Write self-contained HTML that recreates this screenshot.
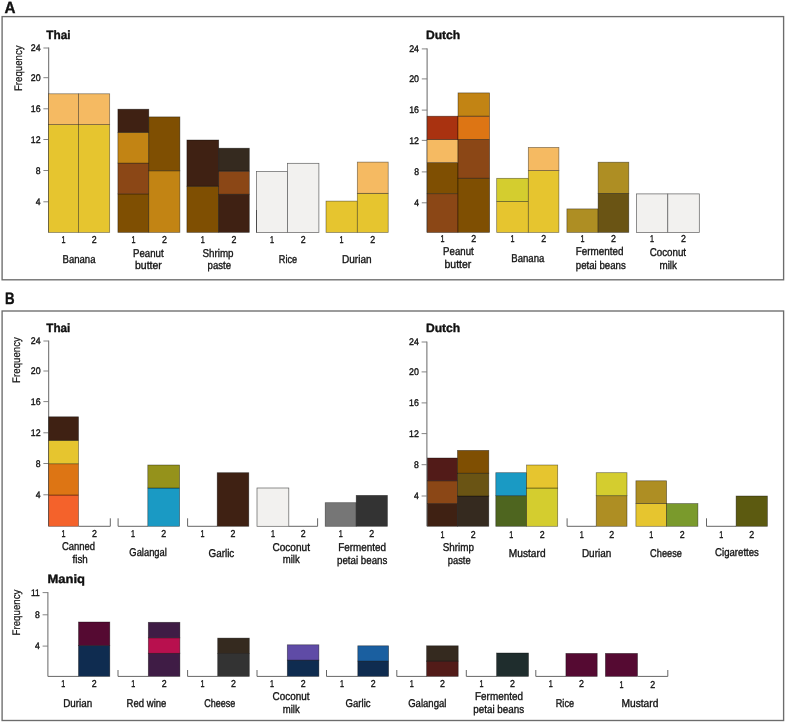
<!DOCTYPE html>
<html><head><meta charset="utf-8"><title>Figure</title>
<style>
html,body{margin:0;padding:0;background:#fff;}
svg{display:block;font-family:"Liberation Sans",sans-serif;fill:#111;text-rendering:geometricPrecision;}
text{stroke:#111;stroke-width:0.35px;}
</style></head><body>
<svg width="785" height="722" viewBox="0 0 785 722">
<rect x="0" y="0" width="785" height="722" fill="#fff" stroke="none"/>
<rect x="2.1" y="16.6" width="781.5" height="263.2" fill="#fff" stroke="#6c6c6c" stroke-width="1.35"/>
<rect x="2.1" y="311" width="781.5" height="409.5" fill="#fff" stroke="#6c6c6c" stroke-width="1.35"/>
<text x="4.5" y="12.7" font-size="16.2" text-anchor="start" font-weight="bold" textLength="11.0" lengthAdjust="spacingAndGlyphs">A</text>
<text x="4.9" y="303.8" font-size="16.6" text-anchor="start" font-weight="bold" textLength="9.6" lengthAdjust="spacingAndGlyphs">B</text>
<text x="46.3" y="39.0" font-size="12.0" text-anchor="start" font-weight="bold" textLength="24.3" lengthAdjust="spacingAndGlyphs">Thai</text>
<text transform="translate(21.5,68.2) rotate(-90)" font-size="11" style="stroke-width:0.2px" text-anchor="middle" textLength="45.8" lengthAdjust="spacingAndGlyphs">Frequency</text>
<line x1="48.7" y1="47.5" x2="48.7" y2="232.4" stroke="#666" stroke-width="1"/>
<line x1="43.4" y1="48.0" x2="48.7" y2="48.0" stroke="#777" stroke-width="0.9"/>
<text x="40.6" y="51.2" font-size="9.6" text-anchor="end" textLength="9.8" lengthAdjust="spacingAndGlyphs">24</text>
<line x1="43.4" y1="77.7" x2="48.7" y2="77.7" stroke="#777" stroke-width="0.9"/>
<text x="40.6" y="80.9" font-size="9.6" text-anchor="end" textLength="9.8" lengthAdjust="spacingAndGlyphs">20</text>
<line x1="43.4" y1="108.8" x2="48.7" y2="108.8" stroke="#777" stroke-width="0.9"/>
<text x="40.6" y="112.0" font-size="9.6" text-anchor="end" textLength="9.8" lengthAdjust="spacingAndGlyphs">16</text>
<line x1="43.4" y1="139.5" x2="48.7" y2="139.5" stroke="#777" stroke-width="0.9"/>
<text x="40.6" y="142.7" font-size="9.6" text-anchor="end" textLength="9.8" lengthAdjust="spacingAndGlyphs">12</text>
<line x1="43.4" y1="170.5" x2="48.7" y2="170.5" stroke="#777" stroke-width="0.9"/>
<text x="40.6" y="173.7" font-size="9.6" text-anchor="end" textLength="4.8" lengthAdjust="spacingAndGlyphs">8</text>
<line x1="43.4" y1="201.8" x2="48.7" y2="201.8" stroke="#777" stroke-width="0.9"/>
<text x="40.6" y="205.0" font-size="9.6" text-anchor="end" textLength="4.8" lengthAdjust="spacingAndGlyphs">4</text>
<rect x="48.6" y="124.6" width="29.8" height="107.8" fill="#E6C52F" stroke="rgba(0,0,0,0.5)" stroke-width="0.7"/>
<rect x="48.6" y="93.8" width="29.8" height="30.8" fill="#F5BA62" stroke="rgba(0,0,0,0.5)" stroke-width="0.7"/>
<rect x="78.4" y="124.6" width="31.3" height="107.8" fill="#E6C52F" stroke="rgba(0,0,0,0.5)" stroke-width="0.7"/>
<rect x="78.4" y="93.8" width="31.3" height="30.8" fill="#F5BA62" stroke="rgba(0,0,0,0.5)" stroke-width="0.7"/>
<text x="63.5" y="243.4" font-size="10" text-anchor="middle" textLength="4.0" lengthAdjust="spacingAndGlyphs">1</text>
<text x="94.1" y="243.4" font-size="10" text-anchor="middle" textLength="4.9" lengthAdjust="spacingAndGlyphs">2</text>
<rect x="117.9" y="193.9" width="30.9" height="38.5" fill="#7F4F02" stroke="rgba(0,0,0,0.5)" stroke-width="0.7"/>
<rect x="117.9" y="163.1" width="30.9" height="30.8" fill="#8B4716" stroke="rgba(0,0,0,0.5)" stroke-width="0.7"/>
<rect x="117.9" y="132.3" width="30.9" height="30.8" fill="#C28414" stroke="rgba(0,0,0,0.5)" stroke-width="0.7"/>
<rect x="117.9" y="109.2" width="30.9" height="23.1" fill="#3F2113" stroke="rgba(0,0,0,0.5)" stroke-width="0.7"/>
<rect x="148.8" y="170.8" width="31.1" height="61.6" fill="#C28414" stroke="rgba(0,0,0,0.5)" stroke-width="0.7"/>
<rect x="148.8" y="116.9" width="31.1" height="53.9" fill="#7F4F02" stroke="rgba(0,0,0,0.5)" stroke-width="0.7"/>
<text x="133.4" y="243.4" font-size="10" text-anchor="middle" textLength="4.0" lengthAdjust="spacingAndGlyphs">1</text>
<text x="164.4" y="243.4" font-size="10" text-anchor="middle" textLength="4.9" lengthAdjust="spacingAndGlyphs">2</text>
<rect x="186.9" y="186.2" width="31.8" height="46.2" fill="#7F4F02" stroke="rgba(0,0,0,0.5)" stroke-width="0.7"/>
<rect x="186.9" y="140.0" width="31.8" height="46.2" fill="#3F2113" stroke="rgba(0,0,0,0.5)" stroke-width="0.7"/>
<rect x="218.7" y="194.2" width="30.6" height="38.2" fill="#3F2113" stroke="rgba(0,0,0,0.5)" stroke-width="0.7"/>
<rect x="218.7" y="171.2" width="30.6" height="23.0" fill="#8B4716" stroke="rgba(0,0,0,0.5)" stroke-width="0.7"/>
<rect x="218.7" y="148.2" width="30.6" height="22.9" fill="#352A1F" stroke="rgba(0,0,0,0.5)" stroke-width="0.7"/>
<text x="202.8" y="243.4" font-size="10" text-anchor="middle" textLength="4.0" lengthAdjust="spacingAndGlyphs">1</text>
<text x="234.0" y="243.4" font-size="10" text-anchor="middle" textLength="4.9" lengthAdjust="spacingAndGlyphs">2</text>
<rect x="256.4" y="171.5" width="31.1" height="60.9" fill="#F2F1EF" stroke="#606060" stroke-width="0.7"/>
<rect x="287.5" y="163.3" width="31.4" height="69.1" fill="#F2F1EF" stroke="#606060" stroke-width="0.7"/>
<text x="271.9" y="243.4" font-size="10" text-anchor="middle" textLength="4.0" lengthAdjust="spacingAndGlyphs">1</text>
<text x="303.2" y="243.4" font-size="10" text-anchor="middle" textLength="4.9" lengthAdjust="spacingAndGlyphs">2</text>
<rect x="326.0" y="201.1" width="31.3" height="31.3" fill="#E6C52F" stroke="rgba(0,0,0,0.5)" stroke-width="0.7"/>
<rect x="357.3" y="193.4" width="30.9" height="39.0" fill="#E6C52F" stroke="rgba(0,0,0,0.5)" stroke-width="0.7"/>
<rect x="357.3" y="162.1" width="30.9" height="31.2" fill="#F5BA62" stroke="rgba(0,0,0,0.5)" stroke-width="0.7"/>
<text x="341.6" y="243.4" font-size="10" text-anchor="middle" textLength="4.0" lengthAdjust="spacingAndGlyphs">1</text>
<text x="372.8" y="243.4" font-size="10" text-anchor="middle" textLength="4.9" lengthAdjust="spacingAndGlyphs">2</text>
<line x1="256.5" y1="210.0" x2="256.5" y2="232.4" stroke="#444" stroke-width="0.9"/>
<text x="79.0" y="263.1" font-size="11.3" text-anchor="middle" textLength="33.0" lengthAdjust="spacingAndGlyphs">Banana</text>
<text x="148.3" y="256.9" font-size="11.3" text-anchor="middle" textLength="30.6" lengthAdjust="spacingAndGlyphs">Peanut</text>
<text x="148.4" y="269.2" font-size="11.3" text-anchor="middle" textLength="26.8" lengthAdjust="spacingAndGlyphs">butter</text>
<text x="218.0" y="256.9" font-size="11.3" text-anchor="middle" textLength="31.0" lengthAdjust="spacingAndGlyphs">Shrimp</text>
<text x="219.3" y="269.2" font-size="11.3" text-anchor="middle" textLength="23.5" lengthAdjust="spacingAndGlyphs">paste</text>
<text x="288.0" y="263.1" font-size="11.3" text-anchor="middle" textLength="18.3" lengthAdjust="spacingAndGlyphs">Rice</text>
<text x="356.8" y="263.1" font-size="11.3" text-anchor="middle" textLength="29.6" lengthAdjust="spacingAndGlyphs">Durian</text>
<text x="425.9" y="39.0" font-size="12.0" text-anchor="start" font-weight="bold" textLength="34.4" lengthAdjust="spacingAndGlyphs">Dutch</text>
<line x1="427.1" y1="48.4" x2="427.1" y2="232.4" stroke="#666" stroke-width="1"/>
<line x1="421.8" y1="48.9" x2="427.1" y2="48.9" stroke="#777" stroke-width="0.9"/>
<text x="419.0" y="52.1" font-size="9.6" text-anchor="end" textLength="9.8" lengthAdjust="spacingAndGlyphs">24</text>
<line x1="421.8" y1="78.9" x2="427.1" y2="78.9" stroke="#777" stroke-width="0.9"/>
<text x="419.0" y="82.1" font-size="9.6" text-anchor="end" textLength="9.8" lengthAdjust="spacingAndGlyphs">20</text>
<line x1="421.8" y1="110.1" x2="427.1" y2="110.1" stroke="#777" stroke-width="0.9"/>
<text x="419.0" y="113.3" font-size="9.6" text-anchor="end" textLength="9.8" lengthAdjust="spacingAndGlyphs">16</text>
<line x1="421.8" y1="140.4" x2="427.1" y2="140.4" stroke="#777" stroke-width="0.9"/>
<text x="419.0" y="143.6" font-size="9.6" text-anchor="end" textLength="9.8" lengthAdjust="spacingAndGlyphs">12</text>
<line x1="421.8" y1="171.9" x2="427.1" y2="171.9" stroke="#777" stroke-width="0.9"/>
<text x="419.0" y="175.1" font-size="9.6" text-anchor="end" textLength="4.8" lengthAdjust="spacingAndGlyphs">8</text>
<line x1="421.8" y1="202.8" x2="427.1" y2="202.8" stroke="#777" stroke-width="0.9"/>
<text x="419.0" y="206.0" font-size="9.6" text-anchor="end" textLength="4.8" lengthAdjust="spacingAndGlyphs">4</text>
<rect x="427.1" y="193.7" width="30.9" height="38.8" fill="#8B4716" stroke="rgba(0,0,0,0.5)" stroke-width="0.7"/>
<rect x="427.1" y="162.7" width="30.9" height="31.0" fill="#7F4F02" stroke="rgba(0,0,0,0.5)" stroke-width="0.7"/>
<rect x="427.1" y="139.4" width="30.9" height="23.2" fill="#F5BA62" stroke="rgba(0,0,0,0.5)" stroke-width="0.7"/>
<rect x="427.1" y="116.2" width="30.9" height="23.2" fill="#A93210" stroke="rgba(0,0,0,0.5)" stroke-width="0.7"/>
<rect x="458.0" y="178.2" width="31.6" height="54.2" fill="#7F4F02" stroke="rgba(0,0,0,0.5)" stroke-width="0.7"/>
<rect x="458.0" y="139.4" width="31.6" height="38.8" fill="#8B4716" stroke="rgba(0,0,0,0.5)" stroke-width="0.7"/>
<rect x="458.0" y="116.2" width="31.6" height="23.2" fill="#DD7514" stroke="rgba(0,0,0,0.5)" stroke-width="0.7"/>
<rect x="458.0" y="92.9" width="31.6" height="23.2" fill="#C28414" stroke="rgba(0,0,0,0.5)" stroke-width="0.7"/>
<text x="442.6" y="242.2" font-size="10" text-anchor="middle" textLength="4.0" lengthAdjust="spacingAndGlyphs">1</text>
<text x="473.8" y="242.2" font-size="10" text-anchor="middle" textLength="4.9" lengthAdjust="spacingAndGlyphs">2</text>
<rect x="496.7" y="201.5" width="31.6" height="30.9" fill="#E6C52F" stroke="rgba(0,0,0,0.5)" stroke-width="0.7"/>
<rect x="496.7" y="178.3" width="31.6" height="23.2" fill="#D4CD2F" stroke="rgba(0,0,0,0.5)" stroke-width="0.7"/>
<rect x="528.3" y="170.6" width="30.6" height="61.8" fill="#E6C52F" stroke="rgba(0,0,0,0.5)" stroke-width="0.7"/>
<rect x="528.3" y="147.4" width="30.6" height="23.2" fill="#F5BA62" stroke="rgba(0,0,0,0.5)" stroke-width="0.7"/>
<text x="512.5" y="242.2" font-size="10" text-anchor="middle" textLength="4.0" lengthAdjust="spacingAndGlyphs">1</text>
<text x="543.6" y="242.2" font-size="10" text-anchor="middle" textLength="4.9" lengthAdjust="spacingAndGlyphs">2</text>
<rect x="566.9" y="208.9" width="31.2" height="23.5" fill="#AE8E23" stroke="rgba(0,0,0,0.5)" stroke-width="0.7"/>
<rect x="598.1" y="193.4" width="30.7" height="39.0" fill="#6A5414" stroke="rgba(0,0,0,0.5)" stroke-width="0.7"/>
<rect x="598.1" y="162.2" width="30.7" height="31.2" fill="#AE8E23" stroke="rgba(0,0,0,0.5)" stroke-width="0.7"/>
<text x="582.5" y="242.2" font-size="10" text-anchor="middle" textLength="4.0" lengthAdjust="spacingAndGlyphs">1</text>
<text x="613.5" y="242.2" font-size="10" text-anchor="middle" textLength="4.9" lengthAdjust="spacingAndGlyphs">2</text>
<rect x="636.5" y="193.9" width="31.3" height="38.5" fill="#F2F1EF" stroke="#606060" stroke-width="0.7"/>
<rect x="667.8" y="193.9" width="31.5" height="38.5" fill="#F2F1EF" stroke="#606060" stroke-width="0.7"/>
<text x="652.1" y="242.2" font-size="10" text-anchor="middle" textLength="4.0" lengthAdjust="spacingAndGlyphs">1</text>
<text x="683.5" y="242.2" font-size="10" text-anchor="middle" textLength="4.9" lengthAdjust="spacingAndGlyphs">2</text>
<text x="458.4" y="254.9" font-size="11.3" text-anchor="middle" textLength="30.6" lengthAdjust="spacingAndGlyphs">Peanut</text>
<text x="457.9" y="267.9" font-size="11.3" text-anchor="middle" textLength="26.8" lengthAdjust="spacingAndGlyphs">butter</text>
<text x="527.8" y="262.1" font-size="11.3" text-anchor="middle" textLength="33.0" lengthAdjust="spacingAndGlyphs">Banana</text>
<text x="599.7" y="255.2" font-size="11.3" text-anchor="middle" textLength="47.8" lengthAdjust="spacingAndGlyphs">Fermented</text>
<text x="600.8" y="269.0" font-size="11.3" text-anchor="middle" textLength="50.1" lengthAdjust="spacingAndGlyphs">petai beans</text>
<text x="667.9" y="255.9" font-size="11.3" text-anchor="middle" textLength="36.4" lengthAdjust="spacingAndGlyphs">Coconut</text>
<text x="668.2" y="269.3" font-size="11.3" text-anchor="middle" textLength="17.5" lengthAdjust="spacingAndGlyphs">milk</text>
<text x="46.3" y="332.1" font-size="12.0" text-anchor="start" font-weight="bold" textLength="24.0" lengthAdjust="spacingAndGlyphs">Thai</text>
<text transform="translate(20.4,360.0) rotate(-90)" font-size="11" style="stroke-width:0.2px" text-anchor="middle" textLength="45.8" lengthAdjust="spacingAndGlyphs">Frequency</text>
<line x1="48.7" y1="340.6" x2="48.7" y2="526.3" stroke="#666" stroke-width="1"/>
<line x1="43.4" y1="341.0" x2="48.7" y2="341.0" stroke="#777" stroke-width="0.9"/>
<text x="40.6" y="344.2" font-size="9.6" text-anchor="end" textLength="9.8" lengthAdjust="spacingAndGlyphs">24</text>
<line x1="43.4" y1="371.0" x2="48.7" y2="371.0" stroke="#777" stroke-width="0.9"/>
<text x="40.6" y="374.2" font-size="9.6" text-anchor="end" textLength="9.8" lengthAdjust="spacingAndGlyphs">20</text>
<line x1="43.4" y1="401.6" x2="48.7" y2="401.6" stroke="#777" stroke-width="0.9"/>
<text x="40.6" y="404.8" font-size="9.6" text-anchor="end" textLength="9.8" lengthAdjust="spacingAndGlyphs">16</text>
<line x1="43.4" y1="432.8" x2="48.7" y2="432.8" stroke="#777" stroke-width="0.9"/>
<text x="40.6" y="436.0" font-size="9.6" text-anchor="end" textLength="9.8" lengthAdjust="spacingAndGlyphs">12</text>
<line x1="43.4" y1="463.5" x2="48.7" y2="463.5" stroke="#777" stroke-width="0.9"/>
<text x="40.6" y="466.7" font-size="9.6" text-anchor="end" textLength="4.8" lengthAdjust="spacingAndGlyphs">8</text>
<line x1="43.4" y1="494.8" x2="48.7" y2="494.8" stroke="#777" stroke-width="0.9"/>
<text x="40.6" y="498.0" font-size="9.6" text-anchor="end" textLength="4.8" lengthAdjust="spacingAndGlyphs">4</text>
<rect x="48.7" y="495.0" width="29.8" height="31.3" fill="#F4622B" stroke="rgba(0,0,0,0.5)" stroke-width="0.7"/>
<rect x="48.7" y="463.7" width="29.8" height="31.3" fill="#DD7514" stroke="rgba(0,0,0,0.5)" stroke-width="0.7"/>
<rect x="48.7" y="440.3" width="29.8" height="23.5" fill="#E6C52F" stroke="rgba(0,0,0,0.5)" stroke-width="0.7"/>
<rect x="48.7" y="416.8" width="29.8" height="23.5" fill="#3F2113" stroke="rgba(0,0,0,0.5)" stroke-width="0.7"/>
<polyline points="78.5,526.3 110.3,526.3 110.3,518.3" fill="none" stroke="#666" stroke-width="1"/>
<text x="63.6" y="537.3" font-size="10" text-anchor="middle" textLength="4.0" lengthAdjust="spacingAndGlyphs">1</text>
<text x="94.4" y="537.3" font-size="10" text-anchor="middle" textLength="4.9" lengthAdjust="spacingAndGlyphs">2</text>
<polyline points="118.1,518.3 118.1,526.3 147.8,526.3" fill="none" stroke="#666" stroke-width="1"/>
<rect x="147.8" y="488.0" width="31.8" height="38.3" fill="#1A9AC4" stroke="rgba(0,0,0,0.5)" stroke-width="0.7"/>
<rect x="147.8" y="465.0" width="31.8" height="23.0" fill="#95921B" stroke="rgba(0,0,0,0.5)" stroke-width="0.7"/>
<text x="132.9" y="537.3" font-size="10" text-anchor="middle" textLength="4.0" lengthAdjust="spacingAndGlyphs">1</text>
<text x="163.7" y="537.3" font-size="10" text-anchor="middle" textLength="4.9" lengthAdjust="spacingAndGlyphs">2</text>
<polyline points="187.6,518.3 187.6,526.3 217.2,526.3" fill="none" stroke="#666" stroke-width="1"/>
<rect x="217.2" y="472.7" width="31.6" height="53.6" fill="#3F2113" stroke="rgba(0,0,0,0.5)" stroke-width="0.7"/>
<text x="202.4" y="537.3" font-size="10" text-anchor="middle" textLength="4.0" lengthAdjust="spacingAndGlyphs">1</text>
<text x="233.0" y="537.3" font-size="10" text-anchor="middle" textLength="4.9" lengthAdjust="spacingAndGlyphs">2</text>
<rect x="257.0" y="488.0" width="31.8" height="38.3" fill="#F2F1EF" stroke="#606060" stroke-width="0.7"/>
<polyline points="288.8,526.3 317.6,526.3 317.6,518.3" fill="none" stroke="#666" stroke-width="1"/>
<text x="272.9" y="537.3" font-size="10" text-anchor="middle" textLength="4.0" lengthAdjust="spacingAndGlyphs">1</text>
<text x="303.2" y="537.3" font-size="10" text-anchor="middle" textLength="4.9" lengthAdjust="spacingAndGlyphs">2</text>
<rect x="325.2" y="502.7" width="31.0" height="23.6" fill="#767676" stroke="rgba(0,0,0,0.5)" stroke-width="0.7"/>
<rect x="356.2" y="495.4" width="31.2" height="30.9" fill="#333333" stroke="rgba(0,0,0,0.5)" stroke-width="0.7"/>
<text x="340.7" y="537.3" font-size="10" text-anchor="middle" textLength="4.0" lengthAdjust="spacingAndGlyphs">1</text>
<text x="371.8" y="537.3" font-size="10" text-anchor="middle" textLength="4.9" lengthAdjust="spacingAndGlyphs">2</text>
<text x="78.5" y="550.1" font-size="11.3" text-anchor="middle" textLength="33.1" lengthAdjust="spacingAndGlyphs">Canned</text>
<text x="80.2" y="562.5" font-size="11.3" text-anchor="middle" textLength="15.3" lengthAdjust="spacingAndGlyphs">fish</text>
<text x="148.1" y="555.6" font-size="11.3" text-anchor="middle" textLength="37.5" lengthAdjust="spacingAndGlyphs">Galangal</text>
<text x="221.4" y="556.6" font-size="11.3" text-anchor="middle" textLength="25.8" lengthAdjust="spacingAndGlyphs">Garlic</text>
<text x="291.2" y="550.6" font-size="11.3" text-anchor="middle" textLength="37.5" lengthAdjust="spacingAndGlyphs">Coconut</text>
<text x="291.2" y="562.8" font-size="11.3" text-anchor="middle" textLength="17.0" lengthAdjust="spacingAndGlyphs">milk</text>
<text x="362.1" y="550.6" font-size="11.3" text-anchor="middle" textLength="47.9" lengthAdjust="spacingAndGlyphs">Fermented</text>
<text x="362.2" y="563.8" font-size="11.3" text-anchor="middle" textLength="50.4" lengthAdjust="spacingAndGlyphs">petai beans</text>
<text x="425.9" y="332.4" font-size="12.0" text-anchor="start" font-weight="bold" textLength="34.4" lengthAdjust="spacingAndGlyphs">Dutch</text>
<line x1="426.9" y1="341.6" x2="426.9" y2="526.3" stroke="#666" stroke-width="1"/>
<line x1="421.6" y1="342.0" x2="426.9" y2="342.0" stroke="#777" stroke-width="0.9"/>
<text x="418.8" y="345.2" font-size="9.6" text-anchor="end" textLength="9.8" lengthAdjust="spacingAndGlyphs">24</text>
<line x1="421.6" y1="371.9" x2="426.9" y2="371.9" stroke="#777" stroke-width="0.9"/>
<text x="418.8" y="375.1" font-size="9.6" text-anchor="end" textLength="9.8" lengthAdjust="spacingAndGlyphs">20</text>
<line x1="421.6" y1="402.9" x2="426.9" y2="402.9" stroke="#777" stroke-width="0.9"/>
<text x="418.8" y="406.1" font-size="9.6" text-anchor="end" textLength="9.8" lengthAdjust="spacingAndGlyphs">16</text>
<line x1="421.6" y1="433.6" x2="426.9" y2="433.6" stroke="#777" stroke-width="0.9"/>
<text x="418.8" y="436.8" font-size="9.6" text-anchor="end" textLength="9.8" lengthAdjust="spacingAndGlyphs">12</text>
<line x1="421.6" y1="464.7" x2="426.9" y2="464.7" stroke="#777" stroke-width="0.9"/>
<text x="418.8" y="467.9" font-size="9.6" text-anchor="end" textLength="4.8" lengthAdjust="spacingAndGlyphs">8</text>
<line x1="421.6" y1="496.0" x2="426.9" y2="496.0" stroke="#777" stroke-width="0.9"/>
<text x="418.8" y="499.2" font-size="9.6" text-anchor="end" textLength="4.8" lengthAdjust="spacingAndGlyphs">4</text>
<rect x="427.4" y="503.5" width="30.1" height="22.8" fill="#3F2113" stroke="rgba(0,0,0,0.5)" stroke-width="0.7"/>
<rect x="427.4" y="480.8" width="30.1" height="22.8" fill="#8B4716" stroke="rgba(0,0,0,0.5)" stroke-width="0.7"/>
<rect x="427.4" y="458.0" width="30.1" height="22.8" fill="#521B18" stroke="rgba(0,0,0,0.5)" stroke-width="0.7"/>
<rect x="457.5" y="495.9" width="31.3" height="30.4" fill="#352A1F" stroke="rgba(0,0,0,0.5)" stroke-width="0.7"/>
<rect x="457.5" y="473.2" width="31.3" height="22.8" fill="#6A5414" stroke="rgba(0,0,0,0.5)" stroke-width="0.7"/>
<rect x="457.5" y="450.4" width="31.3" height="22.8" fill="#7F4F02" stroke="rgba(0,0,0,0.5)" stroke-width="0.7"/>
<text x="442.4" y="537.6" font-size="10" text-anchor="middle" textLength="4.0" lengthAdjust="spacingAndGlyphs">1</text>
<text x="473.1" y="537.6" font-size="10" text-anchor="middle" textLength="4.9" lengthAdjust="spacingAndGlyphs">2</text>
<rect x="495.8" y="495.7" width="30.8" height="30.6" fill="#4E651F" stroke="rgba(0,0,0,0.5)" stroke-width="0.7"/>
<rect x="495.8" y="472.7" width="30.8" height="23.0" fill="#1A9AC4" stroke="rgba(0,0,0,0.5)" stroke-width="0.7"/>
<rect x="526.6" y="488.0" width="31.1" height="38.3" fill="#D4CD2F" stroke="rgba(0,0,0,0.5)" stroke-width="0.7"/>
<rect x="526.6" y="465.0" width="31.1" height="23.0" fill="#E6C52F" stroke="rgba(0,0,0,0.5)" stroke-width="0.7"/>
<text x="511.2" y="537.6" font-size="10" text-anchor="middle" textLength="4.0" lengthAdjust="spacingAndGlyphs">1</text>
<text x="542.2" y="537.6" font-size="10" text-anchor="middle" textLength="4.9" lengthAdjust="spacingAndGlyphs">2</text>
<polyline points="567.1,518.3 567.1,526.3 596.2,526.3" fill="none" stroke="#666" stroke-width="1"/>
<rect x="596.2" y="495.7" width="30.8" height="30.6" fill="#AE8E23" stroke="rgba(0,0,0,0.5)" stroke-width="0.7"/>
<rect x="596.2" y="472.7" width="30.8" height="23.0" fill="#D4CD2F" stroke="rgba(0,0,0,0.5)" stroke-width="0.7"/>
<text x="581.7" y="537.6" font-size="10" text-anchor="middle" textLength="4.0" lengthAdjust="spacingAndGlyphs">1</text>
<text x="611.6" y="537.6" font-size="10" text-anchor="middle" textLength="4.9" lengthAdjust="spacingAndGlyphs">2</text>
<rect x="635.9" y="503.6" width="30.7" height="22.7" fill="#E6C52F" stroke="rgba(0,0,0,0.5)" stroke-width="0.7"/>
<rect x="635.9" y="480.8" width="30.7" height="22.7" fill="#AE8E23" stroke="rgba(0,0,0,0.5)" stroke-width="0.7"/>
<rect x="666.6" y="503.6" width="31.3" height="22.7" fill="#7A9A2C" stroke="rgba(0,0,0,0.5)" stroke-width="0.7"/>
<text x="651.2" y="537.6" font-size="10" text-anchor="middle" textLength="4.0" lengthAdjust="spacingAndGlyphs">1</text>
<text x="682.2" y="537.6" font-size="10" text-anchor="middle" textLength="4.9" lengthAdjust="spacingAndGlyphs">2</text>
<polyline points="706.5,518.3 706.5,526.3 736.1,526.3" fill="none" stroke="#666" stroke-width="1"/>
<rect x="736.1" y="496.0" width="31.3" height="30.3" fill="#5C5A10" stroke="rgba(0,0,0,0.5)" stroke-width="0.7"/>
<text x="721.3" y="537.6" font-size="10" text-anchor="middle" textLength="4.0" lengthAdjust="spacingAndGlyphs">1</text>
<text x="751.8" y="537.6" font-size="10" text-anchor="middle" textLength="4.9" lengthAdjust="spacingAndGlyphs">2</text>
<text x="458.4" y="551.1" font-size="11.3" text-anchor="middle" textLength="31.3" lengthAdjust="spacingAndGlyphs">Shrimp</text>
<text x="459.2" y="563.7" font-size="11.3" text-anchor="middle" textLength="22.9" lengthAdjust="spacingAndGlyphs">paste</text>
<text x="527.2" y="556.7" font-size="11.3" text-anchor="middle" textLength="36.7" lengthAdjust="spacingAndGlyphs">Mustard</text>
<text x="596.6" y="556.7" font-size="11.3" text-anchor="middle" textLength="29.3" lengthAdjust="spacingAndGlyphs">Durian</text>
<text x="666.0" y="556.7" font-size="11.3" text-anchor="middle" textLength="31.8" lengthAdjust="spacingAndGlyphs">Cheese</text>
<text x="737.0" y="556.2" font-size="11.3" text-anchor="middle" textLength="43.8" lengthAdjust="spacingAndGlyphs">Cigarettes</text>
<text x="47.5" y="583.2" font-size="12.0" text-anchor="start" font-weight="bold" textLength="37.5" lengthAdjust="spacingAndGlyphs">Maniq</text>
<text transform="translate(20.4,612.5) rotate(-90)" font-size="11" style="stroke-width:0.2px" text-anchor="middle" textLength="46.0" lengthAdjust="spacingAndGlyphs">Frequency</text>
<line x1="47.9" y1="592.1" x2="47.9" y2="676.4" stroke="#666" stroke-width="1"/>
<line x1="42.6" y1="592.6" x2="47.9" y2="592.6" stroke="#777" stroke-width="0.9"/>
<text x="39.8" y="595.8" font-size="9.6" text-anchor="end" textLength="8.8" lengthAdjust="spacingAndGlyphs">11</text>
<line x1="42.6" y1="614.8" x2="47.9" y2="614.8" stroke="#777" stroke-width="0.9"/>
<text x="39.8" y="618.0" font-size="9.6" text-anchor="end" textLength="4.8" lengthAdjust="spacingAndGlyphs">8</text>
<line x1="42.6" y1="646.1" x2="47.9" y2="646.1" stroke="#777" stroke-width="0.9"/>
<text x="39.8" y="649.3" font-size="9.6" text-anchor="end" textLength="4.8" lengthAdjust="spacingAndGlyphs">4</text>
<line x1="47.9" y1="676.4" x2="78.5" y2="676.4" stroke="#666" stroke-width="1"/>
<rect x="78.5" y="645.5" width="31.3" height="30.9" fill="#0F2C50" stroke="rgba(0,0,0,0.5)" stroke-width="0.7"/>
<rect x="78.5" y="622.0" width="31.3" height="23.5" fill="#550A32" stroke="rgba(0,0,0,0.5)" stroke-width="0.7"/>
<text x="63.2" y="687.3" font-size="10" text-anchor="middle" textLength="4.0" lengthAdjust="spacingAndGlyphs">1</text>
<text x="94.2" y="687.3" font-size="10" text-anchor="middle" textLength="4.9" lengthAdjust="spacingAndGlyphs">2</text>
<polyline points="118.0,670.0 118.0,676.4 148.3,676.4" fill="none" stroke="#666" stroke-width="1"/>
<rect x="148.3" y="653.2" width="31.6" height="23.2" fill="#3F1C45" stroke="rgba(0,0,0,0.5)" stroke-width="0.7"/>
<rect x="148.3" y="637.8" width="31.6" height="15.5" fill="#B8104E" stroke="rgba(0,0,0,0.5)" stroke-width="0.7"/>
<rect x="148.3" y="622.3" width="31.6" height="15.5" fill="#3F1C45" stroke="rgba(0,0,0,0.5)" stroke-width="0.7"/>
<text x="133.2" y="687.3" font-size="10" text-anchor="middle" textLength="4.0" lengthAdjust="spacingAndGlyphs">1</text>
<text x="164.1" y="687.3" font-size="10" text-anchor="middle" textLength="4.9" lengthAdjust="spacingAndGlyphs">2</text>
<polyline points="187.6,670.0 187.6,676.4 217.7,676.4" fill="none" stroke="#666" stroke-width="1"/>
<rect x="217.7" y="653.4" width="31.6" height="23.0" fill="#333333" stroke="rgba(0,0,0,0.5)" stroke-width="0.7"/>
<rect x="217.7" y="638.1" width="31.6" height="15.3" fill="#352A1F" stroke="rgba(0,0,0,0.5)" stroke-width="0.7"/>
<text x="202.6" y="687.3" font-size="10" text-anchor="middle" textLength="4.0" lengthAdjust="spacingAndGlyphs">1</text>
<text x="233.5" y="687.3" font-size="10" text-anchor="middle" textLength="4.9" lengthAdjust="spacingAndGlyphs">2</text>
<polyline points="257.0,670.0 257.0,676.4 287.3,676.4" fill="none" stroke="#666" stroke-width="1"/>
<rect x="287.3" y="660.1" width="31.6" height="16.3" fill="#0F2C50" stroke="rgba(0,0,0,0.5)" stroke-width="0.7"/>
<rect x="287.3" y="644.8" width="31.6" height="15.3" fill="#5F4BA6" stroke="rgba(0,0,0,0.5)" stroke-width="0.7"/>
<text x="272.1" y="687.3" font-size="10" text-anchor="middle" textLength="4.0" lengthAdjust="spacingAndGlyphs">1</text>
<text x="303.1" y="687.3" font-size="10" text-anchor="middle" textLength="4.9" lengthAdjust="spacingAndGlyphs">2</text>
<polyline points="326.5,670.0 326.5,676.4 357.8,676.4" fill="none" stroke="#666" stroke-width="1"/>
<rect x="357.8" y="661.1" width="30.8" height="15.3" fill="#0F2C50" stroke="rgba(0,0,0,0.5)" stroke-width="0.7"/>
<rect x="357.8" y="645.8" width="30.8" height="15.3" fill="#1A5FA0" stroke="rgba(0,0,0,0.5)" stroke-width="0.7"/>
<text x="342.1" y="687.3" font-size="10" text-anchor="middle" textLength="4.0" lengthAdjust="spacingAndGlyphs">1</text>
<text x="373.2" y="687.3" font-size="10" text-anchor="middle" textLength="4.9" lengthAdjust="spacingAndGlyphs">2</text>
<polyline points="396.8,670.0 396.8,676.4 426.6,676.4" fill="none" stroke="#666" stroke-width="1"/>
<rect x="426.6" y="661.1" width="31.6" height="15.3" fill="#521B18" stroke="rgba(0,0,0,0.5)" stroke-width="0.7"/>
<rect x="426.6" y="645.8" width="31.6" height="15.3" fill="#352A1F" stroke="rgba(0,0,0,0.5)" stroke-width="0.7"/>
<text x="411.7" y="687.3" font-size="10" text-anchor="middle" textLength="4.0" lengthAdjust="spacingAndGlyphs">1</text>
<text x="442.4" y="687.3" font-size="10" text-anchor="middle" textLength="4.9" lengthAdjust="spacingAndGlyphs">2</text>
<polyline points="466.3,670.0 466.3,676.4 496.6,676.4" fill="none" stroke="#666" stroke-width="1"/>
<rect x="496.6" y="653.0" width="31.9" height="23.4" fill="#1F2D2D" stroke="rgba(0,0,0,0.5)" stroke-width="0.7"/>
<text x="481.5" y="687.3" font-size="10" text-anchor="middle" textLength="4.0" lengthAdjust="spacingAndGlyphs">1</text>
<text x="512.5" y="687.3" font-size="10" text-anchor="middle" textLength="4.9" lengthAdjust="spacingAndGlyphs">2</text>
<polyline points="535.8,670.0 535.8,676.4 565.9,676.4" fill="none" stroke="#666" stroke-width="1"/>
<rect x="565.9" y="653.4" width="31.3" height="23.0" fill="#550A32" stroke="rgba(0,0,0,0.5)" stroke-width="0.7"/>
<text x="550.8" y="687.3" font-size="10" text-anchor="middle" textLength="4.0" lengthAdjust="spacingAndGlyphs">1</text>
<text x="581.5" y="687.3" font-size="10" text-anchor="middle" textLength="4.9" lengthAdjust="spacingAndGlyphs">2</text>
<rect x="605.4" y="653.4" width="32.1" height="23.0" fill="#550A32" stroke="rgba(0,0,0,0.5)" stroke-width="0.7"/>
<polyline points="637.5,676.4 667.8,676.4 667.8,670.0" fill="none" stroke="#666" stroke-width="1"/>
<text x="621.5" y="687.8" font-size="10" text-anchor="middle" textLength="4.0" lengthAdjust="spacingAndGlyphs">1</text>
<text x="652.6" y="687.8" font-size="10" text-anchor="middle" textLength="4.9" lengthAdjust="spacingAndGlyphs">2</text>
<text x="77.7" y="706.6" font-size="11.3" text-anchor="middle" textLength="29.0" lengthAdjust="spacingAndGlyphs">Durian</text>
<text x="146.5" y="706.6" font-size="11.3" text-anchor="middle" textLength="39.8" lengthAdjust="spacingAndGlyphs">Red wine</text>
<text x="219.7" y="706.6" font-size="11.3" text-anchor="middle" textLength="31.1" lengthAdjust="spacingAndGlyphs">Cheese</text>
<text x="291.0" y="699.9" font-size="11.3" text-anchor="middle" textLength="36.9" lengthAdjust="spacingAndGlyphs">Coconut</text>
<text x="291.2" y="712.7" font-size="11.3" text-anchor="middle" textLength="17.0" lengthAdjust="spacingAndGlyphs">milk</text>
<text x="358.1" y="706.6" font-size="11.3" text-anchor="middle" textLength="25.0" lengthAdjust="spacingAndGlyphs">Garlic</text>
<text x="427.3" y="706.6" font-size="11.3" text-anchor="middle" textLength="38.2" lengthAdjust="spacingAndGlyphs">Galangal</text>
<text x="499.0" y="699.9" font-size="11.3" text-anchor="middle" textLength="47.9" lengthAdjust="spacingAndGlyphs">Fermented</text>
<text x="498.7" y="712.9" font-size="11.3" text-anchor="middle" textLength="50.9" lengthAdjust="spacingAndGlyphs">petai beans</text>
<text x="564.9" y="706.9" font-size="11.3" text-anchor="middle" textLength="18.3" lengthAdjust="spacingAndGlyphs">Rice</text>
<text x="639.9" y="706.9" font-size="11.3" text-anchor="middle" textLength="36.9" lengthAdjust="spacingAndGlyphs">Mustard</text>
</svg>
</body></html>
